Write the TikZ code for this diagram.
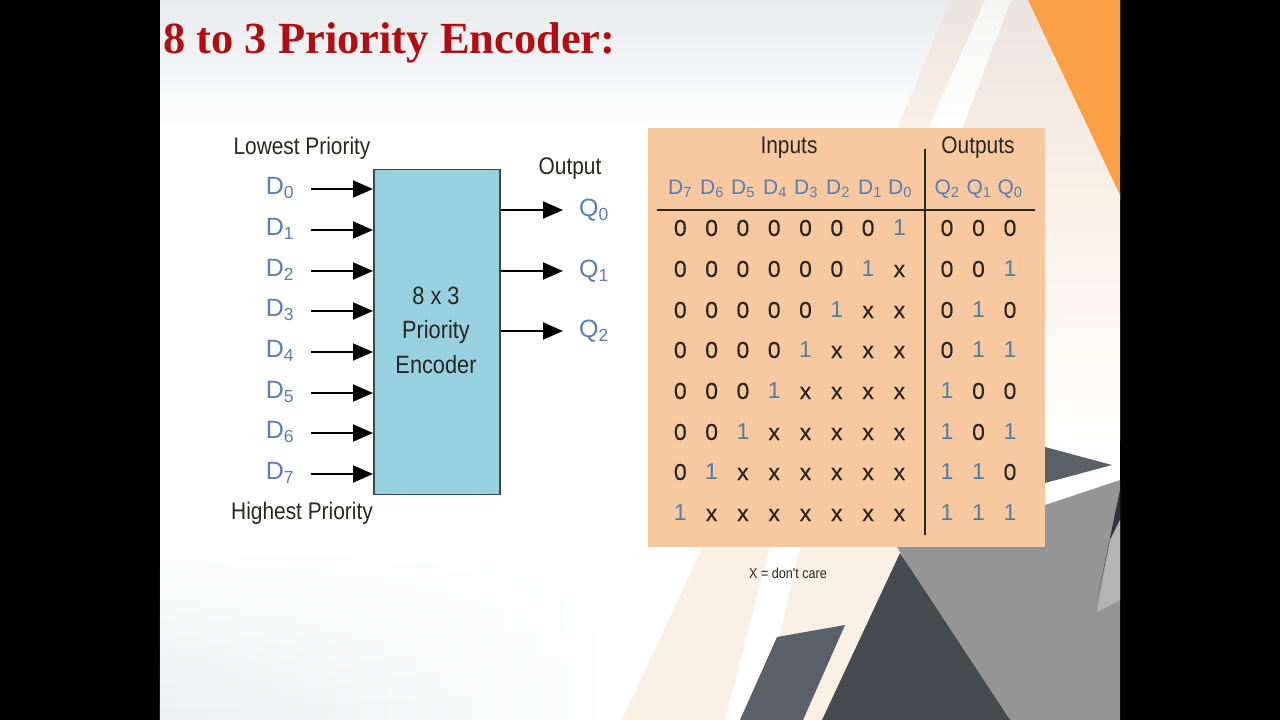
\documentclass[tikz,border=0pt]{standalone}
\usepackage{fontspec}
\setmainfont{Liberation Sans}
\newfontfamily\titlefont{Liberation Serif}
\newfontfamily\narrowfont{Liberation Sans}[FakeStretch=0.87]
\newfontfamily\digitfont{Liberation Sans}[FakeBold=0.3]
\usetikzlibrary{arrows.meta,calc,shadings,fadings}
\definecolor{tblue}{HTML}{5B7DB0}
\definecolor{bluedig}{HTML}{4F7FA0}
\definecolor{peach}{HTML}{F8C9A0}
\definecolor{boxfill}{HTML}{97D0DE}
\definecolor{boxedge}{HTML}{3A4A50}
\definecolor{ink}{HTML}{2A2520}
\definecolor{titlered}{HTML}{AE0F12}
\definecolor{bgtop}{HTML}{E8EAEC}
\definecolor{bgbot}{HTML}{EDEFF0}
\definecolor{streak}{HTML}{FBF0E6}
\definecolor{streaktop}{HTML}{E9E5E0}
\definecolor{stripe}{HTML}{F5F5F4}
\definecolor{orangetri}{HTML}{FBA047}
\definecolor{darkslate}{HTML}{474B4F}
\definecolor{midslate}{HTML}{5A6068}
\definecolor{lightslate}{HTML}{959595}
\definecolor{darksliver}{HTML}{303236}
\definecolor{paleslate}{HTML}{B4B4B4}
\tikzset{
  x=1pt,y=-1pt,
  lbl/.style={font=\narrowfont\fontsize{24}{26}\selectfont,text=ink,inner sep=0pt,anchor=center},
  sig/.style={font=\fontsize{25}{27}\selectfont,text=tblue,inner sep=0pt,anchor=center},
  hd/.style={font=\fontsize{21}{23}\selectfont,text=tblue,inner sep=0pt,anchor=center},
  dig/.style={font=\digitfont\fontsize{23}{25}\selectfont,text=ink,inner sep=0pt,anchor=center},
  one/.style={font=\fontsize{23}{25}\selectfont,text=bluedig,inner sep=0pt,anchor=center},
  wire/.style={draw=black,line width=2pt,-{Triangle[length=20pt,width=17pt]}},
}
\def\onesym{1}
\def\xsym{x}
\newcommand{\rowcells}[2]{%
  \foreach \v [count=\i] in {#2} {%
    \pgfmathsetmacro{\cx}{\ifnum\i<9 {649+31.3*\i}\else {947+31.5*(\i-9)}\fi}%
    \ifx\v\onesym \node[one] at (\cx,#1) {1};\else
      \ifx\v\xsym \node[dig] at (\cx,#1+2) {x};\else \node[dig] at (\cx,#1) {\v};\fi
    \fi
  }%
}
\begin{document}
\begin{tikzpicture}
\useasboundingbox (0,0) rectangle (1280,720);
% background
\fill[black] (0,0) rectangle (1280,720);
\fill[white] (160,0) rectangle (1120,720);
\shade[top color=bgtop,bottom color=white] (160,0) rectangle (1120,135);
\shade[left color=bgbot,right color=white,path fading=north] (160,540) rectangle (640,720);
% pale streaks
\fill[streak] (622,720) -- (895,135) -- (1045,135) -- (1045,720) -- cycle;
\shade[top color=streaktop,bottom color=streak] (895,135) -- (950,0) -- (985,0) -- (925,135) -- cycle;
\shade[top color=stripe,bottom color=white] (985,0) -- (1011,0) -- (960,135) -- (925,135) -- cycle;
\shade[top color=streaktop,bottom color=streak] (1011,0) -- (1040,0) -- (1120,195) -- (1120,200) -- (1045,200) -- (1045,135) -- (960,135) -- cycle;
\fill[white] (725,720) -- (760,720) -- (800,547) -- (770,547) -- cycle;
\shade[top color=streak,bottom color=white] (1045,190) rectangle (1120,440);
\fill[white] (1045,440) rectangle (1120,500);
\fill[orangetri] (1028,0) -- (1120,0) -- (1120,195) -- cycle;
% grey shapes
\fill[lightslate] (897,547) -- (1045,547) -- (1045,505) -- (1120,480) -- (1120,720) -- (1000,720) -- cycle;
\fill[darkslate] (900,553) -- (1010,720) -- (822,720) -- cycle;
\fill[midslate] (777,637) -- (845,625) -- (803,720) -- (740,720) -- cycle;
\fill[midslate] (1045,447) -- (1112,465) -- (1045,483) -- cycle;
\fill[darksliver] (1120,490) -- (1097,600) -- (1110,540) -- (1120,520) -- cycle;
\fill[paleslate] (1097,612) -- (1110,540) -- (1120,520) -- (1120,600) -- cycle;
% title
\node[font=\titlefont\bfseries\fontsize{44.5}{46}\selectfont,text=titlered,inner sep=0pt,anchor=west] (title) at (163,43) {8 to 3 Priority Encoder:};
% block
\node[draw=boxedge,line width=1.6pt,fill=boxfill,minimum width=126pt,minimum height=325pt,inner sep=0pt] (enc) at (437,332) {};
\node[lbl,align=center,font=\narrowfont\fontsize{25}{34.5}\selectfont] (enclab) at (436,330) {8 x 3\\Priority\\Encoder};
\node[lbl] (low) at (302,148) {Lowest Priority};
\node[lbl] (high) at (302,513) {Highest Priority};
\node[lbl] (out) at (570,169) {Output};
\foreach \n/\y in {0/189,1/230,2/271,3/311,4/352,5/393,6/433,7/474} {
  \node[sig] (d\n) at (280,\y-1) {D\textsubscript{\n}};
  \coordinate (ds\n) at (311,\y);
  \coordinate (de\n) at (373,\y);
  \draw[wire] (ds\n) -- (de\n);
}
\foreach \n/\y in {0/210,1/271,2/331} {
  \node[sig] (q\n) at (594,\y) {Q\textsubscript{\n}};
  \coordinate (qs\n) at (501,\y);
  \coordinate (qe\n) at (563,\y);
  \draw[wire] (qs\n) -- (qe\n);
}
% table
\node[fill=peach,minimum width=397pt,minimum height=419pt,inner sep=0pt] (tbl) at (846.5,337.5) {};
\node[lbl] (inp) at (789,148) {Inputs};
\node[lbl] (outp) at (978,148) {Outputs};
\foreach \n/\x in {7/680,6/712,5/743,4/775,3/806,2/838,1/870,0/900} {
  \node[hd] at (\x,189) {D\textsubscript{\n}};
}
\foreach \n/\x in {2/947,1/979,0/1010} {
  \node[hd] at (\x,189) {Q\textsubscript{\n}};
}
\coordinate (h1) at (657,210); \coordinate (h2) at (1035,210);
\coordinate (v1) at (925,149); \coordinate (v2) at (925,535);
\draw[ink,line width=1.8pt] (h1) -- (h2);
\draw[ink,line width=1.8pt] (v1) -- (v2);
\rowcells{228}{0,0,0,0,0,0,0,1,0,0,0}
\rowcells{269}{0,0,0,0,0,0,1,x,0,0,1}
\rowcells{310}{0,0,0,0,0,1,x,x,0,1,0}
\rowcells{350}{0,0,0,0,1,x,x,x,0,1,1}
\rowcells{391}{0,0,0,1,x,x,x,x,1,0,0}
\rowcells{432}{0,0,1,x,x,x,x,x,1,0,1}
\rowcells{472}{0,1,x,x,x,x,x,x,1,1,0}
\rowcells{513}{1,x,x,x,x,x,x,x,1,1,1}
\node[font=\narrowfont\fontsize{14.5}{16}\selectfont,text=ink,inner sep=0pt] (xnote) at (788,573) {X = don't care};
\end{tikzpicture}
\end{document}
